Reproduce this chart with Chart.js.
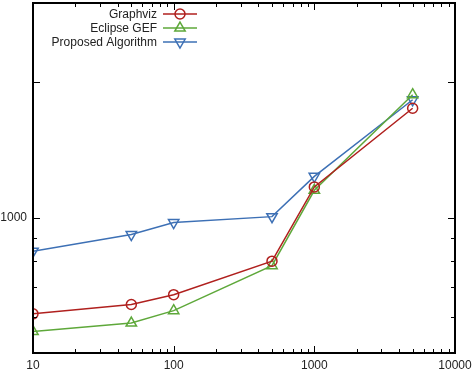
<!DOCTYPE html>
<html>
<head>
<meta charset="utf-8">
<script src="https://cdn.jsdelivr.net/npm/chart.js@4/dist/chart.umd.min.js"></script>
<style>
html,body{margin:0;padding:0;background:#fff;}
#wrap{width:474px;height:372px;}
</style>
</head>
<body>
<div id="wrap"><canvas id="c" width="474" height="372"></canvas></div>
<script>
// ---- data ----
const xValues = [10, 50, 100, 500, 1000, 5000];
const graphviz = [611, 641, 674, 800, 1170, 1750];
const eclipseGEF = [558, 583, 621, 782, 1150, 1876];
const proposed = [842, 917, 975, 1005, 1235, 1828];
const seriesNames = ['Graphviz', 'Eclipse GEF', 'Proposed Algorithm'];
const xTickLabels = [10, 100, 1000, 10000];
const yTickLabels = [1000];
const xMinorTicks = [20,30,40,50,60,70,80,90,200,300,400,500,600,700,800,900,2000,3000,4000,5000,6000,7000,8000,9000];
const yMinorTicks = [600,700,800,900];
const yMajorTicks = [1000,2000];

const COL_RED = '#b0201e', COL_GREEN = '#5ea83a', COL_BLUE = '#3d70b5';
const FONT = 'Liberation Sans';

function pts(ys){ return xValues.map((x,i)=>({x:x,y:ys[i]})); }

const mk = (label, data, color, style, rot, r) => ({
  label, data: pts(data), borderColor: color, backgroundColor: 'transparent',
  borderWidth: 1.5, pointStyle: style, pointRotation: rot, pointRadius: r,
  pointBorderColor: color, pointBackgroundColor: 'transparent', pointBorderWidth: 1.5,
  tension: 0
});

const frame = {
  id: 'frame',
  afterDraw(chart){
    const ctx = chart.ctx, a = chart.chartArea;
    const xs = chart.scales.x, ys = chart.scales.y;
    ctx.save();
    ctx.strokeStyle = '#000';
    ctx.lineWidth = 1;
    ctx.beginPath();
    const tick = (v, len) => {
      const px = Math.round(xs.getPixelForValue(v)) + 0.5;
      ctx.moveTo(px, a.bottom); ctx.lineTo(px, a.bottom - len);
      ctx.moveTo(px, a.top); ctx.lineTo(px, a.top + len);
    };
    xMinorTicks.forEach(v => tick(v, 4));
    xTickLabels.forEach(v => tick(v, 7));
    const ytick = (v, len) => {
      const py = Math.round(ys.getPixelForValue(v)) + 0.5;
      ctx.moveTo(a.left, py); ctx.lineTo(a.left + len, py);
      ctx.moveTo(a.right, py); ctx.lineTo(a.right - len, py);
    };
    yMinorTicks.forEach(v => ytick(v, 4));
    yMajorTicks.forEach(v => ytick(v, 7));
    ctx.stroke();
    ctx.lineWidth = 2;
    ctx.strokeRect(a.left, a.top, a.right - a.left, a.bottom - a.top);

    // legend
    ctx.font = '12px "' + FONT + '"';
    ctx.textAlign = 'right';
    ctx.textBaseline = 'middle';
    chart.data.datasets.forEach((ds, i) => {
      const y = 14 + i * 14;
      ctx.fillStyle = '#222';
      ctx.fillText(ds.label, 157, y + 0.5);
      ctx.strokeStyle = ds.borderColor;
      ctx.lineWidth = 1.5;
      ctx.beginPath(); ctx.moveTo(163, y); ctx.lineTo(197, y); ctx.stroke();
      ctx.fillStyle = 'transparent';
      Chart.helpers.drawPoint(ctx, {pointStyle: ds.pointStyle, rotation: ds.pointRotation, radius: ds.pointRadius, borderWidth: 1.5}, 180, y);
    });
    ctx.restore();
  }
};

new Chart(document.getElementById('c'), {
  type: 'line',
  data: {
    datasets: [
      mk(seriesNames[0], graphviz, COL_RED, 'circle', 0, 5),
      mk(seriesNames[1], eclipseGEF, COL_GREEN, 'triangle', 0, 6),
      mk(seriesNames[2], proposed, COL_BLUE, 'triangle', 180, 6)
    ]
  },
  options: {
    responsive: false,
    animation: false,
    layout: { autoPadding: false, padding: { top: 3, right: 19, left: 0, bottom: 0 } },
    plugins: { legend: { display: false }, tooltip: { enabled: false } },
    scales: {
      x: {
        type: 'logarithmic', min: 10, max: 10000,
        grid: { display: false, drawTicks: false, tickLength: 0 }, border: { display: false },
        afterBuildTicks: s => { s.ticks = xTickLabels.map(v => ({value: v})); },
        afterFit: s => { s.height = 19; s.paddingLeft = 0; s.paddingRight = 0; s.paddingTop = 0; s.paddingBottom = 0; },
        ticks: { autoSkip: false, maxRotation: 0, padding: 5, color: '#222',
          font: { family: FONT, size: 12 }, callback: v => String(v) }
      },
      y: {
        type: 'logarithmic', min: 500, max: 3000,
        grid: { display: false, drawTicks: false, tickLength: 0 }, border: { display: false },
        afterBuildTicks: s => { s.ticks = yTickLabels.map(v => ({value: v})); },
        afterFit: s => { s.width = 33; s.paddingLeft = 0; s.paddingRight = 0; s.paddingTop = 0; s.paddingBottom = 0; },
        ticks: { autoSkip: false, padding: 6, color: '#222',
          font: { family: FONT, size: 12 }, callback: v => String(v) }
      }
    }
  },
  plugins: [frame]
});
</script>
</body>
</html>
